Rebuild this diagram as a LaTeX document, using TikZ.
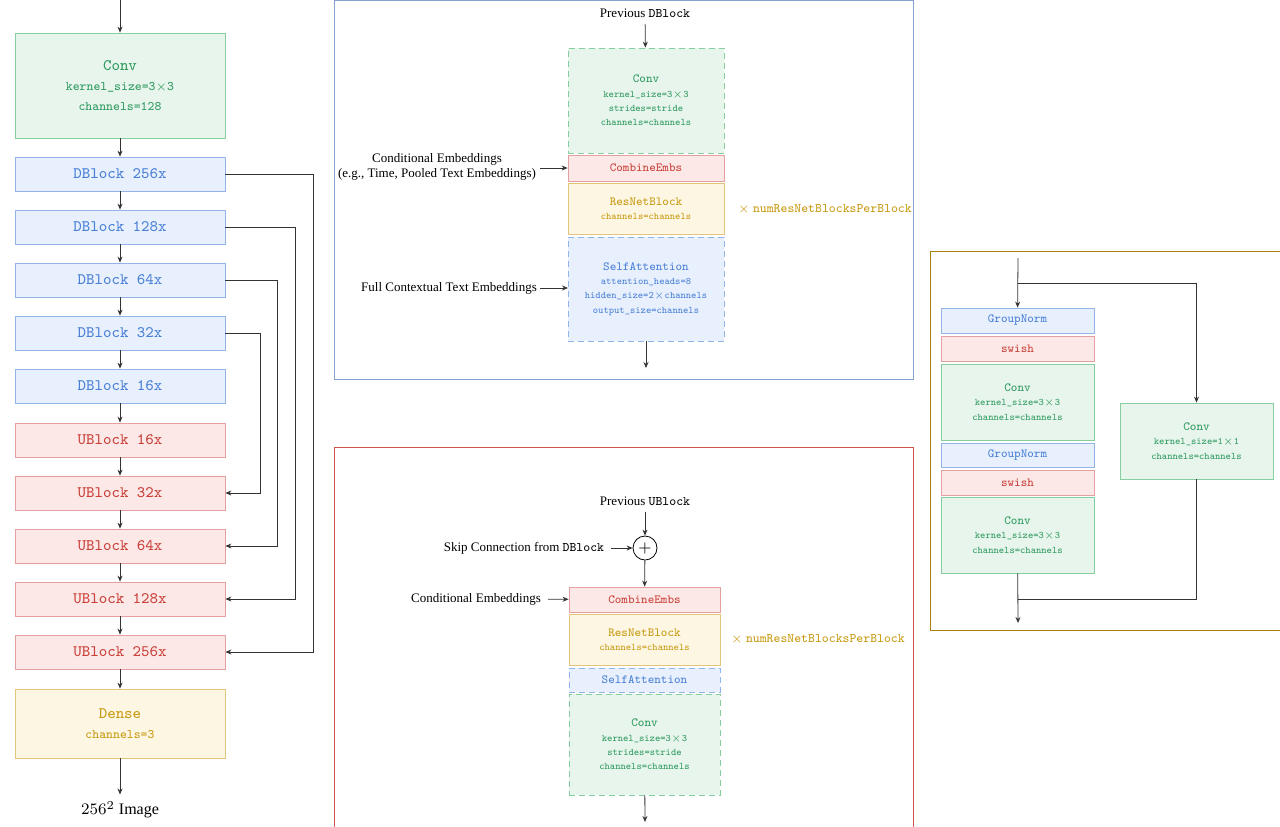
\documentclass[tikz,border=0pt]{standalone}
\usepackage{amsmath}
\usepackage{fontspec}
\setmainfont{Liberation Serif}
\setmonofont{Latin Modern Mono}
\usetikzlibrary{arrows.meta}
\definecolor{gfill}{HTML}{E7F5EC}\definecolor{gdraw}{HTML}{86CDA0}\definecolor{gtext}{HTML}{2E9A5E}
\definecolor{bfill}{HTML}{E8F0FD}\definecolor{bdraw}{HTML}{93B4E8}\definecolor{btext}{HTML}{4A80D6}
\definecolor{rfill}{HTML}{FCE8E7}\definecolor{rdraw}{HTML}{E4A0A0}\definecolor{rtext}{HTML}{C9413A}
\definecolor{yfill}{HTML}{FDF6E2}\definecolor{ydraw}{HTML}{E2C57A}\definecolor{ytext}{HTML}{C89A12}
\tikzset{
  gbox/.style={draw=gdraw,fill=gfill,text=gtext},
  bbox/.style={draw=bdraw,fill=bfill,text=btext},
  rbox/.style={draw=rdraw,fill=rfill,text=rtext},
  ybox/.style={draw=ydraw,fill=yfill,text=ytext},
  dashbox/.style={dash pattern=on 3pt off 2pt},
  big/.style={font=\fontsize{8}{10}\selectfont\ttfamily},
  small/.style={font=\fontsize{5}{7.2}\selectfont\ttfamily\bfseries},
  lbl/.style={font=\fontsize{6.5}{7.5}\selectfont},
  arr/.style={-{Stealth[length=3pt,width=2.5pt]},black!80,line width=0.4pt},
  ln/.style={black!80,line width=0.4pt},
}
% \bx{name}{x1}{y1}{x2}{y2}{style}{text}
\newcommand{\bx}[7]{\node[#6,line width=0.4pt,inner sep=0pt,align=center,
  minimum width={(#4-#2)*0.5pt},minimum height={(#5-#3)*0.5pt}]
  (#1) at ({(#2+#4)/2},{(#3+#5)/2}) {#7};}
\newcommand{\ttl}[1]{{\fontsize{6.2}{7.5}\selectfont\mdseries #1}}
\begin{document}
\begin{tikzpicture}[x=0.5pt,y=-0.5pt]
\useasboundingbox (0,0) rectangle (1280,826);
% ---------- left column ----------
\coordinate (in) at (120,0);
\bx{conv}{15}{33}{225}{138}{gbox,big}{Conv\\{\fontsize{6.5}{10}\selectfont\bfseries kernel\_size=3$\times$3}\\{\fontsize{6.5}{10}\selectfont\bfseries channels=128}}
\bx{d256}{15}{157}{225}{191}{bbox,big}{DBlock 256x}
\bx{d128}{15}{210}{225}{244}{bbox,big}{DBlock 128x}
\bx{d64}{15}{263}{225}{297}{bbox,big}{DBlock 64x}
\bx{d32}{15}{316}{225}{350}{bbox,big}{DBlock 32x}
\bx{d16}{15}{369}{225}{403}{bbox,big}{DBlock 16x}
\bx{u16}{15}{423}{225}{457}{rbox,big}{UBlock 16x}
\bx{u32}{15}{476}{225}{510}{rbox,big}{UBlock 32x}
\bx{u64}{15}{529}{225}{563}{rbox,big}{UBlock 64x}
\bx{u128}{15}{582}{225}{616}{rbox,big}{UBlock 128x}
\bx{u256}{15}{635}{225}{669}{rbox,big}{UBlock 256x}
\bx{dense}{15}{689}{225}{758}{ybox,big}{Dense\\{\fontsize{6.5}{10}\selectfont\bfseries channels=3}}
\node[font=\fontsize{8}{9}\selectfont] (img) at (120,810) {$256^2$ Image};
\draw[arr] (in) -- (conv);
\foreach \a/\b in {conv/d256,d256/d128,d128/d64,d64/d32,d32/d16,d16/u16,u16/u32,u32/u64,u64/u128,u128/u256,u256/dense}
  \draw[arr] (\a) -- (\b);
\draw[arr] (dense) -- (img);
\foreach \a/\b/\x in {d256/u256/313,d128/u128/295,d64/u64/277,d32/u32/260}
  \draw[arr] (\a.east) -| (\x,0 |- \b.east) -- (\b.east);
% ---------- DBlock panel ----------
\draw[draw=bdraw!90!black,line width=0.5pt] (334,0) rectangle (913,379);
\node[lbl] (pd) at (645,13) {Previous \texttt{DBlock}};
\bx{dconv}{568}{48}{724}{153}{gbox,dashbox,small}{\ttl{Conv}\\kernel\_size=3$\times$3\\strides=stride\\channels=channels}
\bx{dcomb}{568}{155}{724}{181}{rbox,small}{\ttl{CombineEmbs}}
\bx{dres}{568}{183}{724}{234}{ybox,small}{\ttl{ResNetBlock}\\channels=channels}
\bx{datt}{568}{237}{724}{341}{bbox,dashbox,small}{\ttl{SelfAttention}\\attention\_heads=8\\hidden\_size=2$\times$channels\\output\_size=channels}
\coordinate (dout) at (646,368);
\node[lbl,align=center] (dcond) at (437,167) {Conditional Embeddings\\(e.g., Time, Pooled Text Embeddings)};
\node[lbl] (dfull) at (449,288) {Full Contextual Text Embeddings};
\node[lbl,text=ytext] (drep) at (825,209) {$\times$ \texttt{\bfseries numResNetBlocksPerBlock}};
\draw[arr] (pd) -- (dconv);
\draw[arr] (datt) -- (dout);
\draw[arr] (540,168) -- (dcomb.west);
\draw[arr] (540,288) -- (568,288);
% ---------- UBlock panel ----------
\draw[draw=rtext!90,line width=0.5pt] (334,447) rectangle (913,830);
\node[lbl] (pu) at (645,501) {Previous \texttt{UBlock}};
\node[draw,circle,minimum size=12pt,inner sep=0pt,line width=0.4pt,font=\fontsize{8}{8}\selectfont] (plus) at (645,548) {$+$};
\node[lbl] (skip) at (524,548) {Skip Connection from \texttt{DBlock}};
\node[lbl] (ucond) at (476,599) {Conditional Embeddings};
\bx{ucomb}{569}{587}{720}{612}{rbox,small}{\ttl{CombineEmbs}}
\bx{ures}{569}{614}{720}{665}{ybox,small}{\ttl{ResNetBlock}\\channels=channels}
\bx{uatt}{569}{668}{720}{692}{bbox,dashbox,small}{\ttl{SelfAttention}}
\bx{uconv}{569}{694}{720}{795}{gbox,dashbox,small}{\ttl{Conv}\\kernel\_size=3$\times$3\\strides=stride\\channels=channels}
\coordinate (uout) at (645,822);
\node[lbl,text=ytext] (urep) at (818,639) {$\times$ \texttt{\bfseries numResNetBlocksPerBlock}};
\draw[arr] (pu) -- (plus);
\draw[arr] (skip) -- (plus);
\draw[arr] (plus) -- (ucomb);
\draw[arr] (ucond) -- (ucomb);
\draw[arr] (uconv) -- (uout);
% ---------- ResNetBlock panel ----------
\draw[draw=ytext!85!black,line width=0.5pt] (930,251) rectangle (1280,630);
\coordinate (rin) at (1018,258);
\coordinate (rsplit) at (1018,283);
\coordinate (rmerge) at (1018,599);
\coordinate (rout) at (1018,623);
\bx{gn1}{941}{308}{1094}{333}{bbox,small}{\ttl{GroupNorm}}
\bx{sw1}{941}{336}{1094}{361}{rbox,small}{\ttl{swish}}
\bx{c1}{941}{364}{1094}{440}{gbox,small}{\ttl{Conv}\\kernel\_size=3$\times$3\\channels=channels}
\bx{gn2}{941}{443}{1094}{467}{bbox,small}{\ttl{GroupNorm}}
\bx{sw2}{941}{470}{1094}{495}{rbox,small}{\ttl{swish}}
\bx{c2}{941}{497}{1094}{573}{gbox,small}{\ttl{Conv}\\kernel\_size=3$\times$3\\channels=channels}
\bx{c3}{1120}{403}{1273}{479}{gbox,small}{\ttl{Conv}\\kernel\_size=1$\times$1\\channels=channels}
\draw[arr] (rin) -- (gn1);
\draw[arr] (rsplit) -| (c3);
\draw[ln] (c3) |- (rmerge);
\draw[arr] (c2) -- (rout);
\end{tikzpicture}
\end{document}
